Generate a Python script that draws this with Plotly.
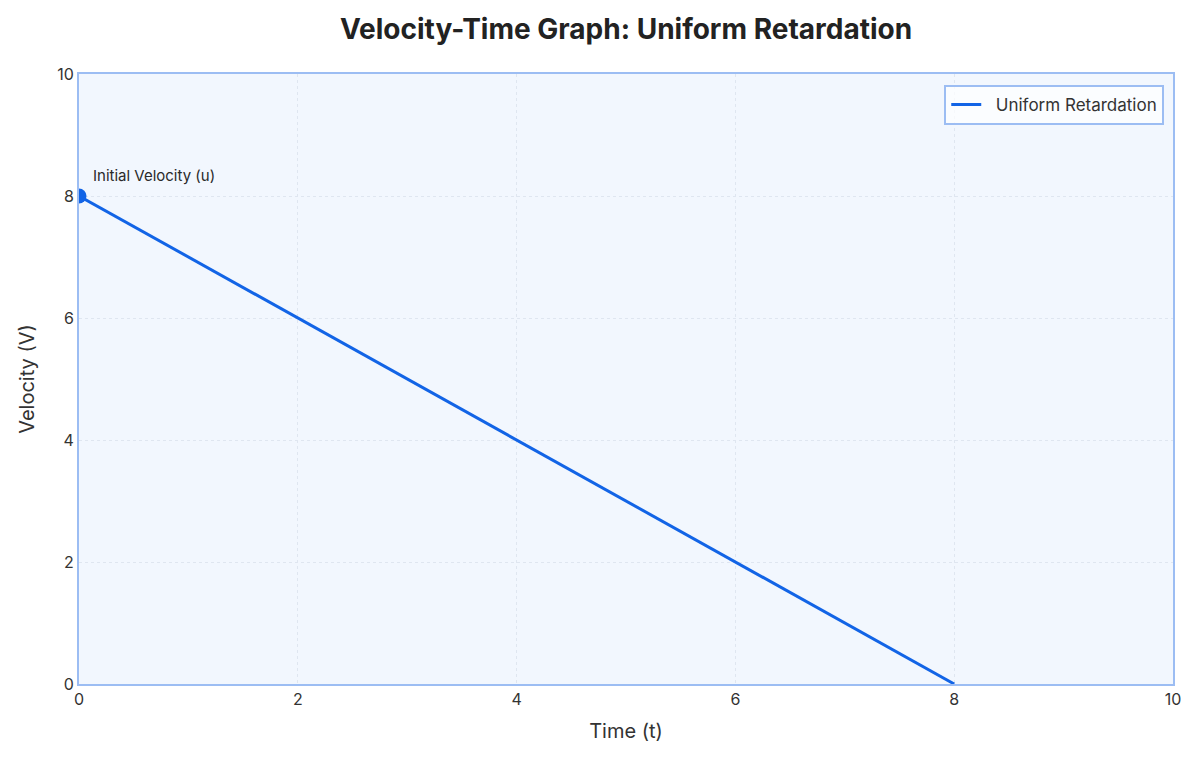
import plotly.graph_objects as go

time = [0, 8]
velocity = [8, 0]
start_t = [0]
start_v = [8]
x_ticks = [0, 2, 4, 6, 8, 10]
y_ticks = [0, 2, 4, 6, 8, 10]

LINE = "#1264e6"
BORDER = "#9cbdf3"
FONT = "Inter, Lato, sans-serif"

fig = go.Figure()
fig.add_trace(go.Scatter(x=time, y=velocity, mode="lines", name="&nbsp;&nbsp;Uniform Retardation",
                         line=dict(color=LINE, width=3)))
fig.add_trace(go.Scatter(x=start_t, y=start_v, mode="markers", showlegend=False,
                         marker=dict(color=LINE, size=15), cliponaxis=True))
fig.add_annotation(x=0.11, y=8.34, text="Initial Velocity (u)", showarrow=False,
                   xanchor="left", yanchor="middle", font=dict(size=15, color="#2a2a2a", family=FONT))

axis_common = dict(showline=True, linecolor=BORDER, linewidth=2, mirror=True,
                   showgrid=True, gridcolor="#dfe6f0", griddash="dot", gridwidth=1,
                   zeroline=False, tickfont=dict(size=16, color="#333333", family=FONT),
                   ticks="", title_font=dict(size=20, color="#333333", family=FONT))
fig.update_xaxes(range=[0, 10], tickvals=x_ticks, title_text="Time (t)", title_standoff=16, **axis_common)
fig.update_yaxes(range=[0, 10], tickvals=y_ticks, title_text="Velocity (V)", title_standoff=17, **axis_common)

fig.update_layout(
    width=1200, height=761,
    margin=dict(l=79, r=27, t=74, b=77),
    paper_bgcolor="white", plot_bgcolor="#f2f7fe",
    title=dict(text="<b>Velocity-Time Graph: Uniform Retardation</b>", x=0.5, xref="paper", xanchor="center",
               y=0.962, yanchor="middle", font=dict(size=28, color="#222222", family=FONT)),
    legend=dict(x=0.992, y=0.982, xanchor="right", yanchor="top", bgcolor="rgba(255,255,255,0.7)",
                bordercolor=BORDER, borderwidth=2,
                font=dict(size=17, color="#333333", family=FONT)),
    showlegend=True,
)
fig.write_html("out.html")
